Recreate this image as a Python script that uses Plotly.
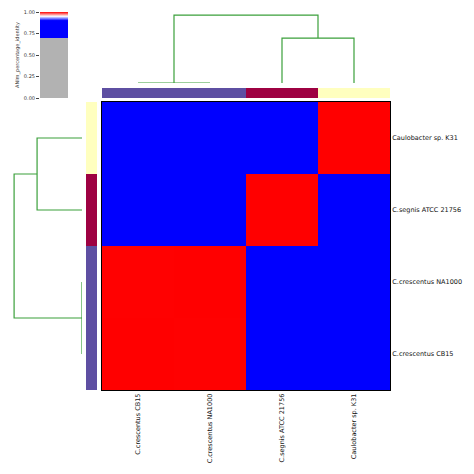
import plotly.graph_objects as go

# genomes in dendrogram leaf order (left->right on columns, bottom->top on rows)
GENOMES = ["C.crescentus CB15", "C.crescentus NA1000",
           "C.segnis ATCC 21756", "Caulobacter sp. K31"]
CLASSES = ["C. crescentus", "C. crescentus", "C. segnis", "Caulobacter sp."]

# ANIm percentage identity (symmetric, same order as GENOMES)
IDENTITY = [
    [1.0000, 0.9999, 0.8620, 0.8480],
    [0.9999, 1.0000, 0.8615, 0.8475],
    [0.8620, 0.8615, 1.0000, 0.8570],
    [0.8480, 0.8475, 0.8570, 1.0000],
]

# linkage: (left cluster, right cluster, height); new clusters are numbered 4, 5, 6
LINKAGE = [(0, 1, 0.0), (2, 3, 0.262), (4, 5, 0.396)]
DENDRO_TOP = 0.414

CLASS_NAMES = ["C. segnis", "Caulobacter sp.", "C. crescentus"]
CLASS_COLOURS = ["#9e0142", "#ffffbf", "#5e4fa2"]

CBAR_TICKS = [0.0, 0.25, 0.5, 0.75, 1.0]

# pyani ANIm colour map: grey below 0.7, blue to 0.9, white at 0.95, red at 1.0
ANI_SCALE = [[0.0, "rgb(178,178,178)"], [0.7, "rgb(178,178,178)"],
             [0.7001, "rgb(0,0,255)"], [0.9, "rgb(0,0,255)"],
             [0.95, "rgb(255,255,255)"], [1.0, "rgb(255,0,0)"]]

GREEN = "#3ba03b"
FONT = "DejaVu Sans"
W = 474


def px(p):
    return p / W


def py(p):
    return 1 - p / W


def dendro_links():
    """U-shaped link coordinates (leaf position, height) from LINKAGE."""
    pos = {i: float(i) for i in range(len(GENOMES))}
    hgt = {i: 0.0 for i in range(len(GENOMES))}
    links = []
    for k, (a, b, h) in enumerate(LINKAGE):
        links.append(([pos[a], pos[a], pos[b], pos[b]], [hgt[a], h, h, hgt[b]]))
        new = len(GENOMES) + k
        pos[new] = (pos[a] + pos[b]) / 2
        hgt[new] = h
    return links


fig = go.Figure()
idx = list(range(len(GENOMES)))
cls_idx = [CLASS_NAMES.index(c) for c in CLASSES]
cls_scale = [[i / 2, c] for i, c in enumerate(CLASS_COLOURS)]

# main heatmap
fig.add_trace(go.Heatmap(
    z=IDENTITY, x=idx, y=idx, zmin=0, zmax=1, colorscale=ANI_SCALE,
    xaxis="x", yaxis="y", hoverinfo="skip",
    colorbar=dict(x=px(40), xanchor="left", y=py(98), yanchor="bottom",
                  len=86, lenmode="pixels", thickness=28, thicknessmode="pixels",
                  outlinewidth=0, xpad=0, ypad=0, ticks="", showticklabels=False),
))

# class bars
fig.add_trace(go.Heatmap(z=[cls_idx], x=idx, y=[0], zmin=0, zmax=2,
                         colorscale=cls_scale, showscale=False,
                         xaxis="x2", yaxis="y2", hoverinfo="skip"))
fig.add_trace(go.Heatmap(z=[[c] for c in cls_idx], x=[0], y=idx, zmin=0, zmax=2,
                         colorscale=cls_scale, showscale=False,
                         xaxis="x3", yaxis="y3", hoverinfo="skip"))

# dendrograms
for xs, hs in dendro_links():
    fig.add_trace(go.Scatter(x=xs, y=hs, mode="lines", line=dict(color=GREEN, width=1.2),
                             xaxis="x4", yaxis="y4", showlegend=False, hoverinfo="skip"))
    fig.add_trace(go.Scatter(x=hs, y=xs, mode="lines", line=dict(color=GREEN, width=1.2),
                             xaxis="x5", yaxis="y5", showlegend=False, hoverinfo="skip"))

# axis carrying the colour bar ticks
fig.add_trace(go.Scatter(x=[], y=[], xaxis="x6", yaxis="y6", showlegend=False))

lab_font = dict(family=FONT, size=6.5, color="#111111")
hidden = dict(visible=False, showgrid=False, zeroline=False)
leaf_range = [-0.5, len(GENOMES) - 0.5]

fig.update_layout(
    width=W, height=W, autosize=False,
    margin=dict(l=0, r=0, t=0, b=0),
    paper_bgcolor="white", plot_bgcolor="rgba(0,0,0,0)",
    showlegend=False,
    font=dict(family=FONT),
    xaxis=dict(domain=[px(102), px(390)], range=leaf_range, tickvals=idx, ticktext=GENOMES,
               tickangle=-90, tickfont=lab_font, ticks="",
               showline=True, mirror=True, linecolor="black", linewidth=1,
               showgrid=False, zeroline=False, anchor="y", automargin=False),
    yaxis=dict(domain=[py(390), py(102)], range=leaf_range, tickvals=idx, ticktext=GENOMES,
               side="right", tickfont=lab_font, ticks="",
               showline=True, mirror=True, linecolor="black", linewidth=1,
               showgrid=False, zeroline=False, anchor="x", automargin=False),
    xaxis2=dict(domain=[px(102), px(390)], range=leaf_range, anchor="y2", **hidden),
    yaxis2=dict(domain=[py(98), py(88)], range=[-0.5, 0.5], anchor="x2", **hidden),
    xaxis3=dict(domain=[px(86), px(97)], range=[-0.5, 0.5], anchor="y3", **hidden),
    yaxis3=dict(domain=[py(390), py(102)], range=leaf_range, anchor="x3", **hidden),
    xaxis4=dict(domain=[px(102), px(390)], range=leaf_range, anchor="y4", **hidden),
    yaxis4=dict(domain=[py(83), py(12)], range=[0, DENDRO_TOP], anchor="x4", **hidden),
    xaxis5=dict(domain=[px(11), px(82)], range=[DENDRO_TOP, 0], anchor="y5", **hidden),
    yaxis5=dict(domain=[py(390), py(102)], range=leaf_range, anchor="x5", **hidden),
    xaxis6=dict(domain=[px(40), px(68)], range=[0, 1], anchor="y6", **hidden),
    yaxis6=dict(domain=[py(98), py(12)], range=[0, 1], anchor="x6",
                tickvals=CBAR_TICKS, ticktext=[f"{v:.2f}" for v in CBAR_TICKS],
                ticks="outside", ticklen=3, tickcolor="#444444",
                tickfont=dict(family=FONT, size=5, color="#333333"),
                title=dict(text="ANIm_percentage_identity", standoff=4,
                           font=dict(family=FONT, size=5, color="#333333")),
                showgrid=False, zeroline=False, showline=False, automargin=False),
)

fig.write_html("out.html", config={"displayModeBar": False},
               post_script="document.body.style.margin='0';")
